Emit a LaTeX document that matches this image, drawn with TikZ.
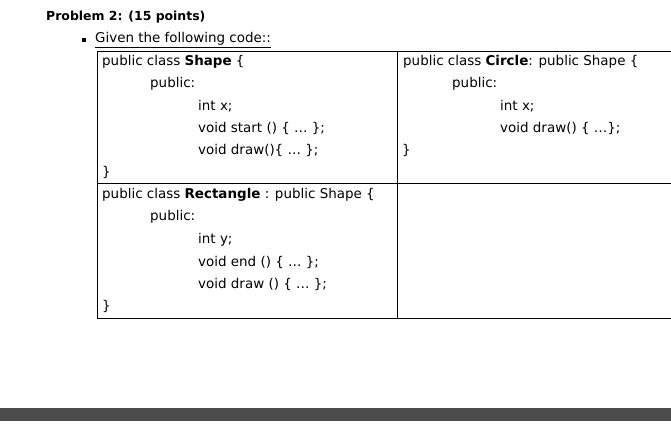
\documentclass[tikz,border=0pt]{standalone}
\usepackage{fontspec}
\setmainfont{DejaVu Sans}
\usepackage{tikz}
\usetikzlibrary{positioning}

\begin{document}
\begin{tikzpicture}[x=1bp, y=-1bp,
        code/.style={anchor=west, inner sep=0pt, font=\fontsize{13.5}{15}\selectfont},
        grid/.style={draw=black, line width=0.8pt}
    ]
    \useasboundingbox (0,0) rectangle (671,426);

    % Heading
    \node[code, font=\fontsize{12.5}{14}\selectfont\bfseries] (title) at (46,17) {Problem 2: (15 points)};
    \node[fill=black, inner sep=1.6pt] (bullet) at (84,40) {};
    \node[code] (given) at (95,40) {\underline{Given the following code::}};

    % Table
    \draw[grid] (97,51) rectangle (671,318);
    \draw[grid] (397,51) -- (397,318);
    \draw[grid] (97,183) -- (671,183);

    % Shape
    \node[code] (shape) at (102,62) {public class \textbf{Shape} \{};
    \node[code] (shapepub) at (150,84) {public:};
    \node[code] (shapex) at (198,106) {int x;};
    \node[code] (shapestart) at (198,128) {void start () \{ … \};};
    \node[code] (shapedraw) at (198,150) {void draw()\{ … \};};
    \node[code] (shapeend) at (102,172) {\}};

    % Rectangle
    \node[code] (rect) at (102,195) {public class \textbf{Rectangle} : public Shape \{};
    \node[code] (rectpub) at (150,217) {public:};
    \node[code] (recty) at (198,240) {int y;};
    \node[code] (rectendf) at (198,262) {void end () \{ … \};};
    \node[code] (rectdraw) at (198,284) {void draw () \{ … \};};
    \node[code] (rectend) at (102,306) {\}};

    % Circle
    \node[code] (circ) at (403,62) {public class \textbf{Circle}: public Shape \{};
    \node[code] (circpub) at (452,84) {public:};
    \node[code] (circx) at (500,106) {int x;};
    \node[code] (circdraw) at (500,128) {void draw() \{ …\};};
    \node[code] (circend) at (402,150) {\}};

    % Bottom bar
    \fill[gray!60!black] (0,408) rectangle (671,421);
\end{tikzpicture}
\end{document}
